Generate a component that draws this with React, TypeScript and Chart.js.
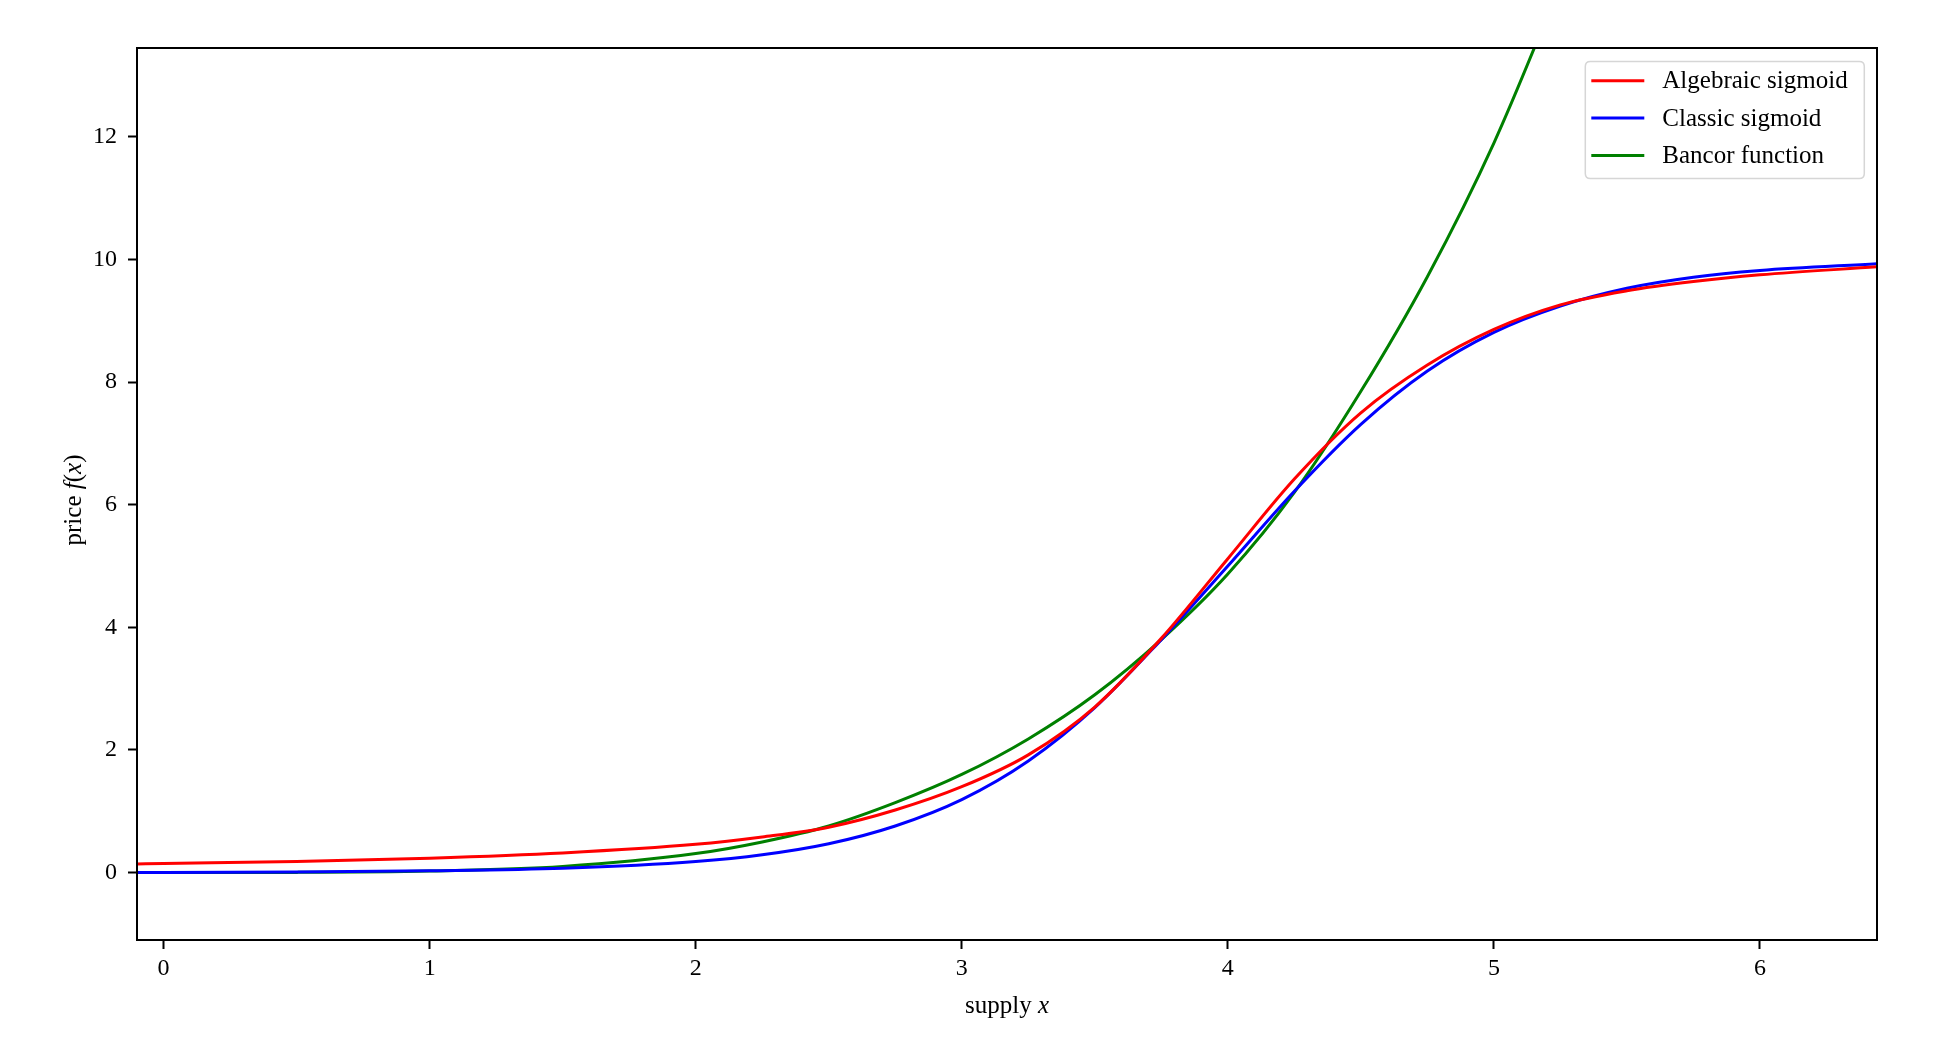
import React, { useEffect, useRef } from "react";
import { Chart, registerables } from "chart.js";

Chart.register(...registerables);

// ---- data ----
const supplyX = [-0.1, 0, 0.5, 1, 1.5, 2, 2.25, 2.5, 2.75, 3, 3.25, 3.5, 3.75, 4, 4.25, 4.5, 4.75, 5, 5.25, 5.5, 5.75, 6, 6.44];
const algebraicSigmoid = [0.14, 0.147, 0.18, 0.235, 0.32, 0.46, 0.58, 0.74, 1.02, 1.4, 1.92, 2.7, 3.82, 5.12, 6.42, 7.5, 8.28, 8.86, 9.26, 9.49, 9.64, 9.75, 9.88];
const classicSigmoid = [0.0, 0.0, 0.01, 0.03, 0.07, 0.18, 0.29, 0.47, 0.76, 1.19, 1.82, 2.69, 3.8, 5.0, 6.22, 7.31, 8.18, 8.81, 9.24, 9.53, 9.71, 9.82, 9.93];
const bancorX = [-0.1, 0, 0.5, 1, 1.5, 2, 2.25, 2.5, 2.75, 3, 3.25, 3.5, 3.75, 4, 4.25, 4.5, 4.75, 5, 5.25, 5.5];
const bancorFunction = [0.0, 0.0, 0.003, 0.025, 0.1, 0.31, 0.5, 0.76, 1.14, 1.6, 2.18, 2.9, 3.8, 4.87, 6.2, 7.85, 9.72, 11.9, 14.5, 17.3];

const seriesLabels = ["Algebraic sigmoid", "Classic sigmoid", "Bancor function"];
const seriesColors = ["#ff0000", "#0000ff", "#008000"];

const xTicks = [0, 1, 2, 3, 4, 5, 6];
const yTicks = [0, 2, 4, 6, 8, 10, 12];
const xRange = [-0.1, 6.44];
const yRange = [-1.1, 13.45];

const xTitle = [
  { text: "supply ", italic: false },
  { text: "x", italic: true },
];
const yTitle = [
  { text: "price ", italic: false },
  { text: "f", italic: true },
  { text: "(", italic: false },
  { text: "x", italic: true },
  { text: ")", italic: false },
];

const FONT = "'Liberation Serif', 'DejaVu Serif', serif";

function drawRich(ctx: CanvasRenderingContext2D, parts: { text: string; italic: boolean }[], cx: number, cy: number, size: number) {
  const fontOf = (it: boolean) => `${it ? "italic " : ""}${size}px ${FONT}`;
  let total = 0;
  const widths = parts.map((p) => {
    ctx.font = fontOf(p.italic);
    const w = ctx.measureText(p.text).width;
    total += w;
    return w;
  });
  let x = cx - total / 2;
  ctx.textBaseline = "middle";
  ctx.textAlign = "left";
  ctx.fillStyle = "#000";
  parts.forEach((p, i) => {
    ctx.font = fontOf(p.italic);
    ctx.fillText(p.text, x, cy);
    x += widths[i];
  });
}

const decorPlugin = {
  id: "decor",
  afterDraw(chart: any) {
    const { ctx, chartArea } = chart;
    const { left, right, top, bottom } = chartArea;
    ctx.save();
    // frame
    ctx.strokeStyle = "#000";
    ctx.lineWidth = 2;
    ctx.strokeRect(left, top, right - left, bottom - top);

    // axis titles
    drawRich(ctx, xTitle, (left + right) / 2, 1006, 25);
    ctx.save();
    ctx.translate(74, (top + bottom) / 2 + 6);
    ctx.rotate(-Math.PI / 2);
    drawRich(ctx, yTitle, 0, 0, 25);
    ctx.restore();

    // legend
    const bw = 279;
    const bh = 117;
    const bx = right - 12.7 - bw;
    const by = top + 13.4;
    const r = 5;
    ctx.beginPath();
    ctx.moveTo(bx + r, by);
    ctx.lineTo(bx + bw - r, by);
    ctx.quadraticCurveTo(bx + bw, by, bx + bw, by + r);
    ctx.lineTo(bx + bw, by + bh - r);
    ctx.quadraticCurveTo(bx + bw, by + bh, bx + bw - r, by + bh);
    ctx.lineTo(bx + r, by + bh);
    ctx.quadraticCurveTo(bx, by + bh, bx, by + bh - r);
    ctx.lineTo(bx, by + r);
    ctx.quadraticCurveTo(bx, by, bx + r, by);
    ctx.closePath();
    ctx.fillStyle = "rgba(255,255,255,0.8)";
    ctx.fill();
    ctx.strokeStyle = "#d6d6d6";
    ctx.lineWidth = 1.5;
    ctx.stroke();

    chart.data.datasets.forEach((ds: any, i: number) => {
      const y = by + 19.3 + i * 37.4;
      ctx.strokeStyle = ds.borderColor;
      ctx.lineWidth = 3;
      ctx.beginPath();
      ctx.moveTo(bx + 6, y);
      ctx.lineTo(bx + 59, y);
      ctx.stroke();
      ctx.fillStyle = "#000";
      ctx.font = `25px ${FONT}`;
      ctx.textAlign = "left";
      ctx.textBaseline = "middle";
      ctx.fillText(ds.label, bx + 77, y + 1);
    });
    ctx.restore();
  },
};

export default function App() {
  const ref = useRef<HTMLCanvasElement | null>(null);

  useEffect(() => {
    if (!ref.current) return;
    const mk = (xs: number[], ys: number[]) => xs.map((x, i) => ({ x, y: ys[i] }));
    const seriesData = [mk(supplyX, algebraicSigmoid), mk(supplyX, classicSigmoid), mk(bancorX, bancorFunction)];

    const chart = new Chart(ref.current, {
      type: "line",
      data: {
        datasets: seriesData.map((d, i) => ({
          label: seriesLabels[i],
          data: d,
          borderColor: seriesColors[i],
          backgroundColor: seriesColors[i],
          borderWidth: 3,
          pointRadius: 0,
          pointHoverRadius: 0,
          fill: false,
          cubicInterpolationMode: "monotone" as const,
          clip: 0,
        })),
      },
      options: {
        animation: false,
        responsive: true,
        maintainAspectRatio: false,
        layout: { padding: { left: 0, right: 63, top: 48, bottom: 0 } },
        plugins: {
          legend: { display: false },
          tooltip: { enabled: false },
          title: { display: false },
        },
        scales: {
          x: {
            type: "linear",
            min: xRange[0],
            max: xRange[1],
            afterBuildTicks: (s: any) => {
              s.ticks = xTicks.map((v) => ({ value: v }));
            },
            afterFit: (s: any) => {
              s.height = 106;
            },
            ticks: {
              color: "#000",
              font: { family: FONT, size: 24 },
              padding: 5,
              maxRotation: 0,
              autoSkip: false,
            },
            grid: {
              display: true,
              drawOnChartArea: false,
              drawTicks: true,
              tickLength: 9,
              tickWidth: 2,
              tickColor: "#000",
            },
            border: { display: false },
          },
          y: {
            type: "linear",
            min: yRange[0],
            max: yRange[1],
            afterBuildTicks: (s: any) => {
              s.ticks = yTicks.map((v) => ({ value: v }));
            },
            afterFit: (s: any) => {
              s.width = 137;
            },
            ticks: {
              color: "#000",
              font: { family: FONT, size: 24 },
              padding: 11,
              autoSkip: false,
            },
            grid: {
              display: true,
              drawOnChartArea: false,
              drawTicks: true,
              tickLength: 9,
              tickWidth: 2,
              tickColor: "#000",
            },
            border: { display: false },
          },
        },
      },
      plugins: [decorPlugin],
    });
    return () => chart.destroy();
  }, []);

  return (
    <div style={{ position: "fixed", left: 0, top: 0, width: 1940, height: 1046, background: "#fff" }}>
      <canvas ref={ref} />
    </div>
  );
}
